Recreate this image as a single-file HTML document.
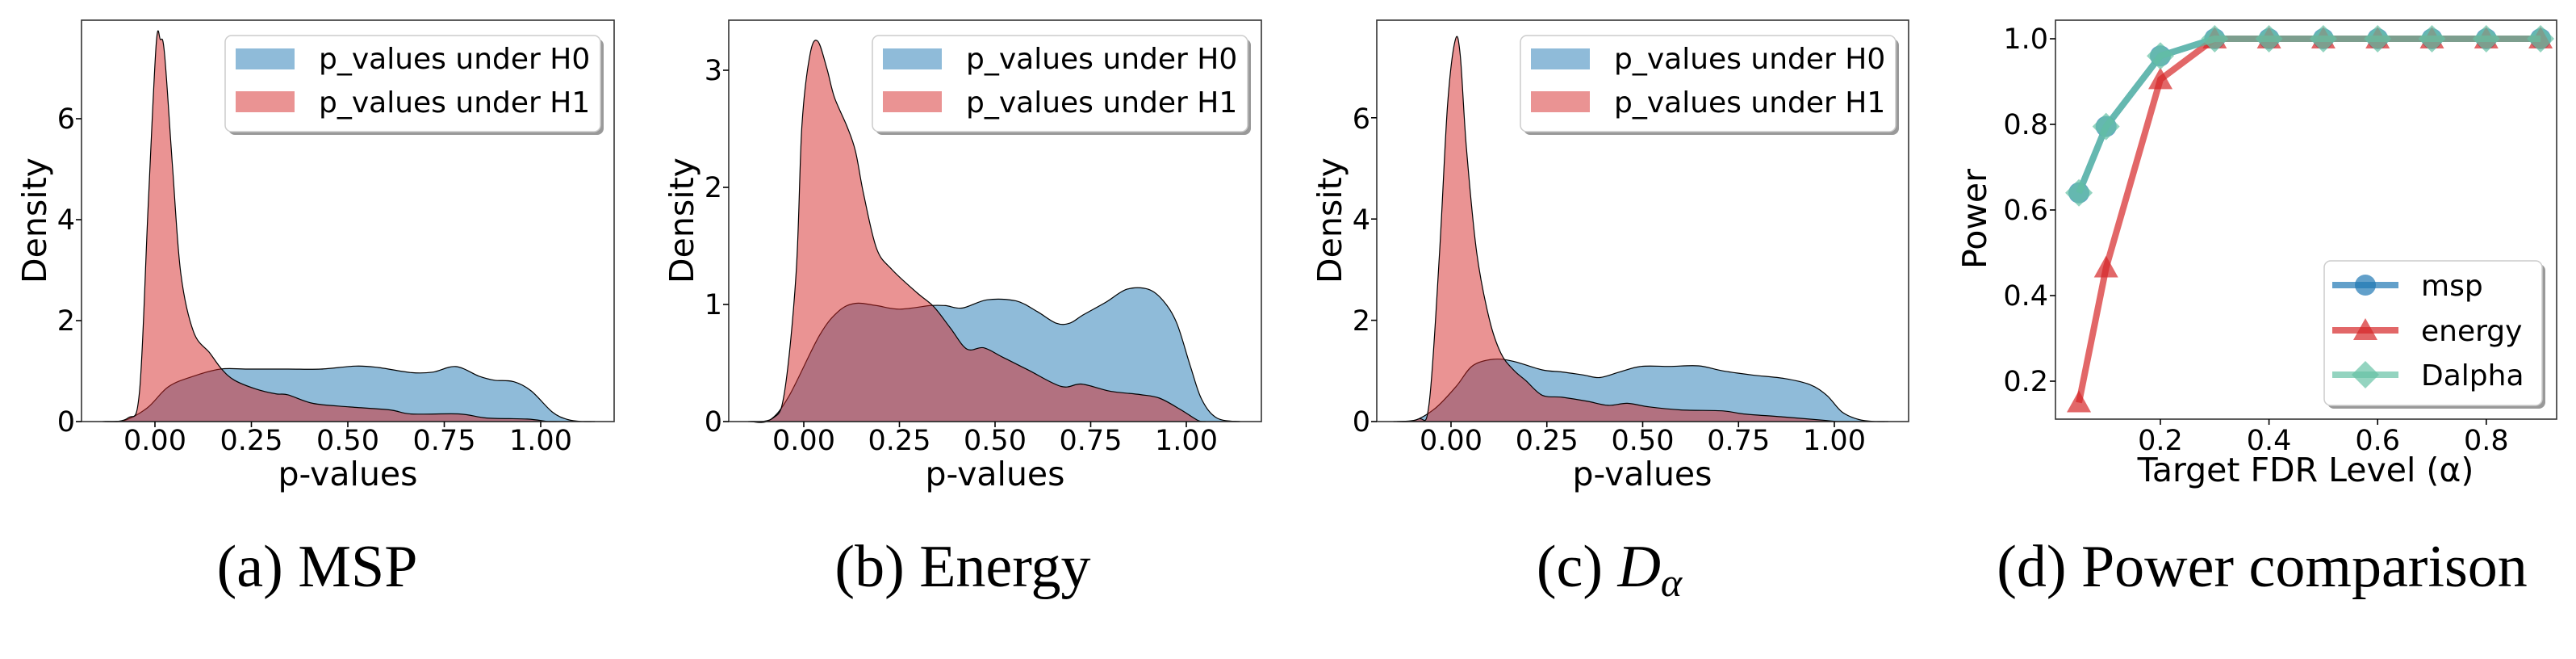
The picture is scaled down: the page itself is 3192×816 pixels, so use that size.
<!DOCTYPE html>
<html><head><meta charset="utf-8"><style>
html,body{margin:0;padding:0;background:#fff;}
svg{display:block;}
text{font-family:"DejaVu Sans","Liberation Sans",sans-serif;fill:#000;}
.cap{font-family:"Liberation Serif","DejaVu Serif",serif;font-size:74px;}
.tk{font-size:35px;}
.lb{font-size:41px;}
.lg{font-size:36px;}
</style></head><body>
<svg id="s" width="3192" height="816" viewBox="0 0 3192 816" xmlns="http://www.w3.org/2000/svg">
<rect width="3192" height="816" fill="#fff"/>
<g id="plots"></g>

<!-- Panel a -->
<text class="tk" x="93" y="534" text-anchor="end">0</text>
<text class="tk" x="93" y="409" text-anchor="end">2</text>
<text class="tk" x="93" y="284" text-anchor="end">4</text>
<text class="tk" x="93" y="159" text-anchor="end">6</text>
<text class="tk" x="192" y="557" text-anchor="middle">0.00</text>
<text class="tk" x="311.5" y="557" text-anchor="middle">0.25</text>
<text class="tk" x="431" y="557" text-anchor="middle">0.50</text>
<text class="tk" x="550.5" y="557" text-anchor="middle">0.75</text>
<text class="tk" x="670" y="557" text-anchor="middle">1.00</text>
<text class="lb" x="431" y="601" text-anchor="middle">p-values</text>
<text class="lb" transform="translate(57,273) rotate(-90)" text-anchor="middle">Density</text>
<text class="cap" x="393" y="726" text-anchor="middle">(a) MSP</text>

<!-- Panel b -->
<text class="tk" x="895" y="534" text-anchor="end">0</text>
<text class="tk" x="895" y="389" text-anchor="end">1</text>
<text class="tk" x="895" y="244" text-anchor="end">2</text>
<text class="tk" x="895" y="99" text-anchor="end">3</text>
<text class="tk" x="996" y="557" text-anchor="middle">0.00</text>
<text class="tk" x="1114.5" y="557" text-anchor="middle">0.25</text>
<text class="tk" x="1233" y="557" text-anchor="middle">0.50</text>
<text class="tk" x="1351.5" y="557" text-anchor="middle">0.75</text>
<text class="tk" x="1470" y="557" text-anchor="middle">1.00</text>
<text class="lb" x="1233" y="601" text-anchor="middle">p-values</text>
<text class="lb" transform="translate(859,273) rotate(-90)" text-anchor="middle">Density</text>
<text class="cap" x="1193" y="726" text-anchor="middle">(b) Energy</text>

<!-- Panel c -->
<text class="tk" x="1698" y="534" text-anchor="end">0</text>
<text class="tk" x="1698" y="409" text-anchor="end">2</text>
<text class="tk" x="1698" y="284" text-anchor="end">4</text>
<text class="tk" x="1698" y="159" text-anchor="end">6</text>
<text class="tk" x="1798" y="557" text-anchor="middle">0.00</text>
<text class="tk" x="1916.75" y="557" text-anchor="middle">0.25</text>
<text class="tk" x="2035.5" y="557" text-anchor="middle">0.50</text>
<text class="tk" x="2154.25" y="557" text-anchor="middle">0.75</text>
<text class="tk" x="2273" y="557" text-anchor="middle">1.00</text>
<text class="lb" x="2035" y="601" text-anchor="middle">p-values</text>
<text class="lb" transform="translate(1662,273) rotate(-90)" text-anchor="middle">Density</text>
<text class="cap" x="1994" y="726" text-anchor="middle">(c) <tspan font-style="italic">D</tspan><tspan font-style="italic" font-size="50" dy="12">α</tspan></text>

<!-- Panel d -->
<text class="tk" x="2538" y="60" text-anchor="end">1.0</text>
<text class="tk" x="2538" y="166" text-anchor="end">0.8</text>
<text class="tk" x="2538" y="272" text-anchor="end">0.6</text>
<text class="tk" x="2538" y="378" text-anchor="end">0.4</text>
<text class="tk" x="2538" y="484" text-anchor="end">0.2</text>
<text class="tk" x="2677" y="557" text-anchor="middle">0.2</text>
<text class="tk" x="2811.6" y="557" text-anchor="middle">0.4</text>
<text class="tk" x="2946.2" y="557" text-anchor="middle">0.6</text>
<text class="tk" x="3080.8" y="557" text-anchor="middle">0.8</text>
<text class="lb" x="2857" y="596" text-anchor="middle">Target FDR Level (α)</text>
<text class="lb" transform="translate(2461,271) rotate(-90)" text-anchor="middle">Power</text>
<text class="cap" x="2803" y="726" text-anchor="middle">(d) Power comparison</text>
<g id="legs"></g>
<g id="legtext">
<text class="lg" x="395" y="85">p_values under H0</text>
<text class="lg" x="395" y="139">p_values under H1</text>
<text class="lg" x="1197" y="85">p_values under H0</text>
<text class="lg" x="1197" y="139">p_values under H1</text>
<text class="lg" x="2000" y="85">p_values under H0</text>
<text class="lg" x="2000" y="139">p_values under H1</text>
<text class="lg" x="3000" y="366">msp</text>
<text class="lg" x="3000" y="422">energy</text>
<text class="lg" x="3000" y="477">Dalpha</text>
</g>
</svg>
<script>
var NS="http://www.w3.org/2000/svg";
function el(p,t,a){var e=document.createElementNS(NS,t);for(var k in a)e.setAttribute(k,a[k]);p.appendChild(e);return e;}
var G=document.getElementById('plots'),L=document.getElementById('legs');
function smooth(pts){var d="M"+pts[0][0].toFixed(1)+","+pts[0][1].toFixed(1);
 for(var i=0;i<pts.length-1;i++){var p0=pts[Math.max(i-1,0)],p1=pts[i],p2=pts[i+1],p3=pts[Math.min(i+2,pts.length-1)];
 var c1=[p1[0]+(p2[0]-p0[0])/6,p1[1]+(p2[1]-p0[1])/6],c2=[p2[0]-(p3[0]-p1[0])/6,p2[1]-(p3[1]-p1[1])/6];
 d+=" C"+c1[0].toFixed(1)+","+c1[1].toFixed(1)+" "+c2[0].toFixed(1)+","+c2[1].toFixed(1)+" "+p2[0].toFixed(1)+","+p2[1].toFixed(1);}
 return d;}
function kde(P,data,color){var pts=data.map(function(q){return [P.x0+q[0]*P.ux,P.b-q[1]*P.uy];});
 var d=smooth(pts)+" L"+pts[pts.length-1][0]+","+P.b+" L"+pts[0][0]+","+P.b+" Z";
 el(G,'path',{d:d,fill:color,'fill-opacity':0.5,stroke:'#000','stroke-width':1.2,'stroke-linejoin':'round'});}
function axes(P){
 el(G,'rect',{x:P.l,y:25,width:P.r-P.l,height:P.b-25,fill:'none',stroke:'#333','stroke-width':1.6});
 P.yt.forEach(function(v){var y=P.b-v*P.uy;el(G,'line',{x1:P.l-7,x2:P.l,y1:y,y2:y,stroke:'#000','stroke-width':1.6});});
 [0,0.25,0.5,0.75,1].forEach(function(v){var x=P.x0+v*P.ux;el(G,'line',{x1:x,x2:x,y1:P.b,y2:P.b+7,stroke:'#000','stroke-width':1.6});});
 var lx=P.lx;
 el(L,'rect',{x:lx+4,y:48,width:465,height:119,rx:8,fill:'#999'});
 el(L,'rect',{x:lx,y:44,width:465,height:119,rx:8,fill:'#fff',stroke:'#ccc','stroke-width':1.5});
 el(L,'rect',{x:lx+13,y:60,width:73,height:26,fill:'#1f77b4','fill-opacity':0.5});
 el(L,'rect',{x:lx+13,y:113,width:73,height:26,fill:'#d62728','fill-opacity':0.5});
}
var A={l:101,r:761,b:522,x0:192,ux:478,uy:62.5,yt:[0,2,4,6],lx:279};
var B={l:903,r:1563,b:522,x0:996,ux:474,uy:145,yt:[0,1,2,3],lx:1081};
var C={l:1706,r:2365,b:522,x0:1798,ux:475,uy:62.7,yt:[0,2,4,6],lx:1884};
var a0=[[-0.13,0],[-0.08,0.02],[-0.02,0.27],[0.035,0.69],[0.1,0.9],[0.17,1.04],[0.24,1.04],[0.345,1.04],[0.43,1.04],[0.52,1.1],[0.58,1.07],[0.665,0.97],[0.72,0.98],[0.78,1.09],[0.84,0.9],[0.88,0.82],[0.93,0.79],[0.975,0.61],[1.03,0.19],[1.07,0.04],[1.11,0],[1.14,0]];
var a1=[[-0.135,0],[-0.07,0.07],[-0.04,0.6],[-0.018,4.2],[0.003,7.45],[0.014,7.57],[0.025,7.28],[0.046,5.0],[0.067,2.94],[0.1,1.78],[0.142,1.36],[0.174,1.03],[0.206,0.82],[0.26,0.65],[0.313,0.55],[0.345,0.53],[0.41,0.36],[0.505,0.29],[0.61,0.23],[0.665,0.15],[0.79,0.15],[0.86,0.07],[0.965,0.05],[1.02,0],[1.05,0]];
var b0=[[-0.14,0],[-0.09,0.01],[-0.04,0.21],[0.04,0.73],[0.09,0.94],[0.135,1.01],[0.19,0.99],[0.25,0.96],[0.33,0.99],[0.37,0.99],[0.415,0.97],[0.48,1.04],[0.555,1.03],[0.61,0.94],[0.66,0.84],[0.695,0.84],[0.73,0.91],[0.79,1.02],[0.845,1.13],[0.9,1.13],[0.94,1.03],[0.975,0.84],[1.01,0.48],[1.04,0.19],[1.08,0.03],[1.14,0]];
var b1=[[-0.145,0],[-0.08,0.03],[-0.05,0.26],[-0.02,1.27],[-0.005,2.52],[0.016,3.13],[0.036,3.25],[0.06,3.02],[0.08,2.77],[0.113,2.52],[0.135,2.31],[0.156,1.95],[0.19,1.48],[0.23,1.3],[0.296,1.1],[0.34,0.98],[0.383,0.8],[0.426,0.62],[0.47,0.63],[0.52,0.55],[0.587,0.44],[0.673,0.3],[0.727,0.32],[0.8,0.26],[0.88,0.23],[0.93,0.2],[0.986,0.1],[1.03,0.01],[1.05,0]];
var c0=[[-0.14,0],[-0.095,0.02],[-0.04,0.27],[0.013,0.69],[0.056,1.1],[0.11,1.23],[0.163,1.19],[0.238,1.02],[0.29,0.98],[0.345,0.92],[0.388,0.87],[0.44,0.98],[0.496,1.09],[0.57,1.09],[0.646,1.1],[0.71,1.0],[0.785,0.92],[0.87,0.85],[0.936,0.73],[0.98,0.52],[1.02,0.19],[1.064,0.04],[1.11,0],[1.14,0]];
var c1=[[-0.15,0],[-0.085,0.05],[-0.057,0.36],[-0.03,3.34],[-0.009,6.25],[0.011,7.53],[0.024,7.24],[0.04,5.42],[0.067,3.34],[0.1,2.02],[0.13,1.35],[0.163,1.02],[0.195,0.81],[0.238,0.52],[0.29,0.48],[0.356,0.4],[0.41,0.32],[0.46,0.36],[0.517,0.29],[0.6,0.23],[0.71,0.21],[0.764,0.15],[0.87,0.09],[0.98,0.02],[1.01,0],[1.04,0]];
kde(A,a0,'#1f77b4');kde(A,a1,'#d62728');axes(A);
kde(B,b0,'#1f77b4');kde(B,b1,'#d62728');axes(B);
kde(C,c0,'#1f77b4');kde(C,c1,'#d62728');axes(C);
// Panel d
var D={l:2547,r:3168,b:519};
el(G,'rect',{x:D.l,y:25,width:D.r-D.l,height:D.b-25,fill:'none',stroke:'#333','stroke-width':1.6});
function dx(v){return 2677+(v-0.2)*673;} function dy(v){return 48+(1-v)*530;}
[0.2,0.4,0.6,0.8,1.0].forEach(function(v){el(G,'line',{x1:D.l-7,x2:D.l,y1:dy(v),y2:dy(v),stroke:'#000','stroke-width':1.6});});
[0.2,0.4,0.6,0.8].forEach(function(v){el(G,'line',{x1:dx(v),x2:dx(v),y1:D.b,y2:D.b+7,stroke:'#000','stroke-width':1.6});});
var X=[0.05,0.1,0.2,0.3,0.4,0.5,0.6,0.7,0.8,0.9];
var S=[{c:'#1f77b4',y:[0.64,0.795,0.96,1,1,1,1,1,1,1],m:'o'},{c:'#d62728',y:[0.15,0.465,0.905,1,1,1,1,1,1,1],m:'^'},{c:'#66c2a5',y:[0.64,0.795,0.96,1,1,1,1,1,1,1],m:'D'}];
function marker(p,m,x,y,c){if(m=='o')el(p,'circle',{cx:x,cy:y,r:13,fill:c,'fill-opacity':0.7});
 else if(m=='^')el(p,'polygon',{points:(x)+','+(y-15)+' '+(x+15)+','+(y+12)+' '+(x-15)+','+(y+12),fill:c,'fill-opacity':0.7});
 else el(p,'polygon',{points:x+','+(y-17)+' '+(x+17)+','+y+' '+x+','+(y+17)+' '+(x-17)+','+y,fill:c,'fill-opacity':0.7});}
S.forEach(function(s){var g=el(G,'g',{opacity:0.7});
 el(g,'polyline',{points:X.map(function(v,i){return dx(v)+','+dy(s.y[i]);}).join(' '),fill:'none',stroke:s.c,'stroke-width':8,'stroke-linejoin':'round'});
 X.forEach(function(v,i){marker(G,s.m,dx(v),dy(s.y[i]),s.c);});});
el(L,'rect',{x:2884,y:327,width:270,height:179,rx:8,fill:'#999'});
el(L,'rect',{x:2880,y:323,width:270,height:179,rx:8,fill:'#fff',stroke:'#ccc','stroke-width':1.5});
[[353,0],[409,1],[464,2]].forEach(function(r){var s=S[r[1]];
 el(L,'line',{x1:2890,x2:2972,y1:r[0],y2:r[0],stroke:s.c,'stroke-width':8,'stroke-opacity':0.7});
 marker(L,s.m,2931,r[0],s.c);});
</script>
</body></html>
